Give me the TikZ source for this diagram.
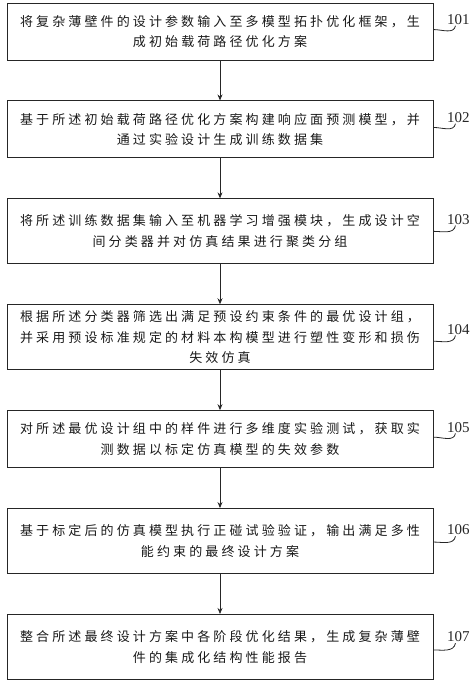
\documentclass[tikz,border=0pt]{standalone}
\usepackage{fontspec}
\setmainfont{Noto Sans CJK SC}[LetterSpace=24]
\newfontfamily\numfont{Liberation Serif}
\usepackage{tikz}
\usetikzlibrary{arrows.meta,positioning}

\begin{document}
\begin{tikzpicture}[
    node distance=40pt,
    stepbox/.style={draw=black!85, line width=0.9pt, align=center, minimum width=426pt, minimum height=57pt, inner sep=0pt, text=black!90, font=\fontsize{13}{20.5}\selectfont},
    tallbox/.style={stepbox, minimum height=65pt},
    tag/.style={inner sep=0pt, text=black!85, font=\numfont\fontsize{15}{15}\selectfont},
    leader/.style={black!85, line width=0.8pt},
    arrow/.style={-{Stealth[length=6pt, width=5pt]}, black!85, line width=0.8pt}
]
\useasboundingbox (0,0) rectangle (474pt,-680pt);
\node[stepbox] (s1) at (220pt,-31.5pt) {将复杂薄壁件的设计参数输入至多模型拓扑优化框架，生\\成初始载荷路径优化方案};
\node[stepbox, below=of s1] (s2) {基于所述初始载荷路径优化方案构建响应面预测模型，并\\通过实验设计生成训练数据集};
\node[tallbox, below=of s2] (s3) {将所述训练数据集输入至机器学习增强模块，生成设计空\\间分类器并对仿真结果进行聚类分组};
\node[tallbox, below=of s3] (s4) {根据所述分类器筛选出满足预设约束条件的最优设计组，\\并采用预设标准规定的材料本构模型进行塑性变形和损伤\\失效仿真};
\node[stepbox, below=of s4] (s5) {对所述最优设计组中的样件进行多维度实验测试，获取实\\测数据以标定仿真模型的失效参数};
\node[tallbox, below=of s5] (s6) {基于标定后的仿真模型执行正碰试验验证，输出满足多性\\能约束的最终设计方案};
\node[tallbox, below=of s6] (s7) {整合所述最终设计方案中各阶段优化结果，生成复杂薄壁\\件的集成化结构性能报告};
\draw[arrow] (s1) -- (s2);
\draw[arrow] (s2) -- (s3);
\draw[arrow] (s3) -- (s4);
\draw[arrow] (s4) -- (s5);
\draw[arrow] (s5) -- (s6);
\draw[arrow] (s6) -- (s7);
% reference numerals
\node[tag] (n1) at ([xshift=25pt,yshift=-17pt]s1.north east) {101};
\node[tag] (n2) at ([xshift=25pt,yshift=-17pt]s2.north east) {102};
\node[tag] (n3) at ([xshift=25pt,yshift=-21pt]s3.north east) {103};
\node[tag] (n4) at ([xshift=25pt,yshift=-25pt]s4.north east) {104};
\node[tag] (n5) at ([xshift=25pt,yshift=-17pt]s5.north east) {105};
\node[tag] (n6) at ([xshift=25pt,yshift=-22pt]s6.north east) {106};
\node[tag] (n7) at ([xshift=25pt,yshift=-23pt]s7.north east) {107};
\draw[leader] ([yshift=-27pt]s1.north east) to[out=0, in=-100] ([xshift=-3pt,yshift=-1pt]n1.south);
\draw[leader] ([yshift=-27pt]s2.north east) to[out=0, in=-100] ([xshift=-3pt,yshift=-1pt]n2.south);
\draw[leader] ([yshift=-33pt]s3.north east) to[out=0, in=-100] ([xshift=-3pt,yshift=-1pt]n3.south);
\draw[leader] ([yshift=-37pt]s4.north east) to[out=0, in=-100] ([xshift=-3pt,yshift=-1pt]n4.south);
\draw[leader] ([yshift=-27pt]s5.north east) to[out=0, in=-100] ([xshift=-3pt,yshift=-1pt]n5.south);
\draw[leader] ([yshift=-34pt]s6.north east) to[out=0, in=-100] ([xshift=-3pt,yshift=-1pt]n6.south);
\draw[leader] ([yshift=-36pt]s7.north east) to[out=0, in=-100] ([xshift=-3pt,yshift=-1pt]n7.south);
\end{tikzpicture}
\end{document}
